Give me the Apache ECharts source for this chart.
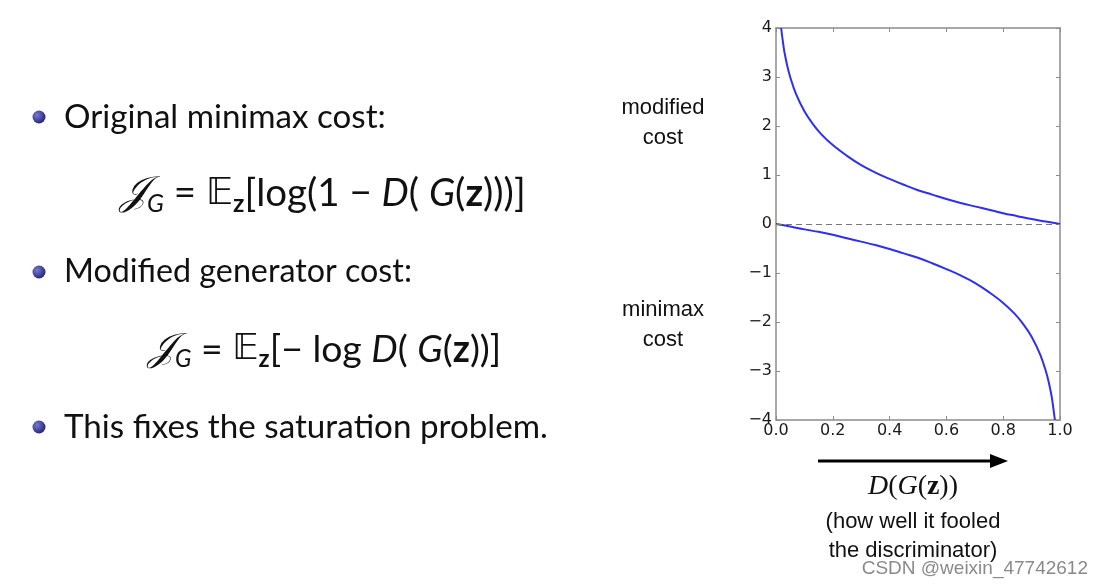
<!DOCTYPE html>
<html>
<head>
<meta charset="utf-8">
<script src="https://cdn.jsdelivr.net/npm/echarts@6/dist/echarts.min.js"></script>
<style>
  html, body { margin: 0; padding: 0; background: #fff; }
  #chart { width: 1103px; height: 588px; }
</style>
</head>
<body>
<div id="chart"></div>
<script>
// values
const modX = [0.018, 0.025, 0.03, 0.04, 0.05, 0.07, 0.1, 0.13, 0.16, 0.2, 0.25, 0.3, 0.35, 0.4, 0.45, 0.5, 0.55, 0.6, 0.65, 0.7, 0.75, 0.8, 0.85, 0.9, 0.95, 1.0]
const modY = [4.0, 3.69, 3.5, 3.22, 3.0, 2.66, 2.3, 2.04, 1.83, 1.61, 1.39, 1.2, 1.05, 0.92, 0.8, 0.69, 0.6, 0.51, 0.43, 0.36, 0.29, 0.22, 0.16, 0.1, 0.05, 0.0]
const minX = [0, 0.05, 0.1, 0.15, 0.2, 0.25, 0.3, 0.35, 0.4, 0.45, 0.5, 0.55, 0.6, 0.65, 0.7, 0.75, 0.8, 0.84, 0.87, 0.9, 0.93, 0.95, 0.96, 0.97, 0.975, 0.982]
const minY = [0, -0.05, -0.11, -0.16, -0.22, -0.29, -0.36, -0.43, -0.51, -0.6, -0.69, -0.8, -0.92, -1.05, -1.2, -1.39, -1.61, -1.83, -2.04, -2.3, -2.66, -3.0, -3.22, -3.5, -3.69, -4.0]
const xTickLabels = ['0.0', '0.2', '0.4', '0.6', '0.8', '1.0']
const yTickLabels = ['\u22124', '\u22123', '\u22122', '\u22121', '0', '1', '2', '3', '4']

const chart = echarts.init(document.getElementById('chart'))

// 文字测量
const ctx = document.createElement('canvas').getContext('2d')
function measure(p) {
  ctx.font = (p.style || 'normal') + ' ' + (p.weight || 'normal') + ' ' + p.size + 'px ' + p.family
  return ctx.measureText(p.t).width
}
// 一行文字按目标宽度排版
function layoutLine(pieces, x0, yc, width, fill) {
  let total = 0
  pieces.forEach(p => { total += measure(p) })
  const k = width ? width / total : 1
  let x = x0
  const out = []
  pieces.forEach(p => {
    const q = Object.assign({}, p, { size: p.size * k })
    out.push({
      type: 'text', x: x, y: yc + (p.dy || 0) * k,
      style: {
        text: p.t, fontSize: q.size, fontFamily: p.family,
        fontStyle: p.style || 'normal', fontWeight: p.weight || 'normal',
        fill: fill || '#111', align: 'left', verticalAlign: 'middle'
      }
    })
    x += measure(q)
  })
  return out
}

const sans = 'Lato'
const graphics = []
// 项目符号
;[117, 272, 427].forEach(y => {
  graphics.push({
    type: 'circle', shape: { cx: 39, cy: y, r: 6.5 },
    style: {
      fill: { type: 'radial', x: 0.35, y: 0.35, r: 0.75,
        colorStops: [{ offset: 0, color: '#7878d8' }, { offset: 1, color: '#1e1e66' }] }
    }
  })
})
graphics.push(...layoutLine([{ t: 'Original minimax cost:', size: 34, family: sans }], 64, 117, 322))
graphics.push(...layoutLine([{ t: 'Modified generator cost:', size: 34, family: sans }], 64, 272, 348))
// 分段绘制，避免 "ti" 连字
graphics.push(...layoutLine([
  { t: 'This fixes the satura', size: 34, family: sans },
  { t: 'tion problem.', size: 34, family: sans }
], 64, 427, 484))

const mathSerif = 'DejaVu Serif'
graphics.push(...layoutLine([
  { t: '\uD835\uDCA5', size: 32, family: mathSerif, style: 'italic' },
  { t: 'G', size: 20, family: sans, style: 'italic', dy: 8 },
  { t: ' = ', size: 31, family: sans },
  { t: '\uD835\uDD3C', size: 30, family: 'DejaVu Sans' },
  { t: 'z', size: 20, family: sans, weight: 'bold', dy: 8 },
  { t: '[log(1 \u2212 ', size: 31, family: sans },
  { t: 'D', size: 31, family: sans, style: 'italic' },
  { t: '( ', size: 31, family: sans },
  { t: 'G', size: 31, family: sans, style: 'italic' },
  { t: '(', size: 31, family: sans },
  { t: 'z', size: 31, family: sans, weight: 'bold' },
  { t: ')))]', size: 31, family: sans }
], 120, 194, 406))
graphics.push(...layoutLine([
  { t: '\uD835\uDCA5', size: 32, family: mathSerif, style: 'italic' },
  { t: 'G', size: 20, family: sans, style: 'italic', dy: 8 },
  { t: ' = ', size: 31, family: sans },
  { t: '\uD835\uDD3C', size: 30, family: 'DejaVu Sans' },
  { t: 'z', size: 20, family: sans, weight: 'bold', dy: 8 },
  { t: '[\u2212 log ', size: 31, family: sans },
  { t: 'D', size: 31, family: sans, style: 'italic' },
  { t: '( ', size: 31, family: sans },
  { t: 'G', size: 31, family: sans, style: 'italic' },
  { t: '(', size: 31, family: sans },
  { t: 'z', size: 31, family: sans, weight: 'bold' },
  { t: '))]', size: 31, family: sans }
], 148, 350, 353))

// 图旁说明
const helv = 'Liberation Sans'
;[['modified', 108, 663], ['cost', 138, 663], ['minimax', 310, 663], ['cost', 340, 663],
  ['(how well it fooled', 522, 913], ['the discriminator)', 551, 913]].forEach(([t, y, x]) => {
  graphics.push({
    type: 'text', x: x, y: y,
    style: { text: t, fontSize: 22, fontFamily: helv, fill: '#111', align: 'center', verticalAlign: 'middle' }
  })
})
// 箭头
graphics.push({ type: 'line', shape: { x1: 818, y1: 461, x2: 992, y2: 461 }, style: { stroke: '#000', lineWidth: 3 } })
graphics.push({ type: 'polygon', shape: { points: [[990, 454], [1008, 461], [990, 468]] }, style: { fill: '#000' } })
graphics.push(...layoutLine([
  { t: 'D', size: 24, family: 'Liberation Serif', style: 'italic' },
  { t: '(', size: 24, family: 'Liberation Serif' },
  { t: 'G', size: 24, family: 'Liberation Serif', style: 'italic' },
  { t: '(', size: 24, family: 'Liberation Serif' },
  { t: 'z', size: 24, family: 'Liberation Serif', weight: 'bold' },
  { t: '))', size: 24, family: 'Liberation Serif' }
], 868, 487, 90))
// 水印
graphics.push({
  type: 'text', x: 1088, y: 569,
  style: { text: 'CSDN @weixin_47742612', fontSize: 19, fontFamily: helv, fill: '#8a8a8a',
    align: 'right', verticalAlign: 'middle' }
})

const frameColor = '#8c8c8c'
const tickStyle = { show: true, inside: true, length: 4, lineStyle: { color: frameColor, width: 1 } }
const frameLine = { show: true, onZero: false, lineStyle: { color: frameColor, width: 1.5 } }
const axisLabelStyle = { color: '#1a1a1a', fontSize: 16, fontFamily: 'DejaVu Sans' }

const option = {
  animation: false,
  backgroundColor: '#fff',
  grid: { left: 776, right: 43, top: 28, bottom: 168, outerBoundsMode: 'none' },
  xAxis: [
    {
      type: 'value', min: 0, max: 1, interval: 0.2, position: 'bottom',
      axisLine: frameLine, axisTick: tickStyle, splitLine: { show: false },
      axisLabel: Object.assign({ margin: 3, formatter: v => xTickLabels[Math.round(v * 5)] }, axisLabelStyle)
    },
    {
      type: 'value', min: 0, max: 1, interval: 0.2, position: 'top',
      axisLine: frameLine, axisTick: tickStyle, axisLabel: { show: false }, splitLine: { show: false }
    }
  ],
  yAxis: [
    {
      type: 'value', min: -4, max: 4, interval: 1, position: 'left',
      axisLine: frameLine, axisTick: tickStyle, splitLine: { show: false },
      axisLabel: Object.assign({ margin: 4, formatter: v => yTickLabels[Math.round(v) + 4] }, axisLabelStyle)
    },
    {
      type: 'value', min: -4, max: 4, interval: 1, position: 'right',
      axisLine: frameLine, axisTick: tickStyle, axisLabel: { show: false }, splitLine: { show: false }
    }
  ],
  series: [
    {
      name: 'modified cost', type: 'line', xAxisIndex: 0, yAxisIndex: 0,
      data: modX.map((x, i) => [x, modY[i]]),
      smooth: 0.4, showSymbol: false,
      lineStyle: { color: '#3030e8', width: 2 },
      markLine: {
        silent: true, symbol: 'none', label: { show: false },
        lineStyle: { color: '#777', type: [6, 4], width: 1 },
        data: [{ yAxis: 0 }]
      }
    },
    {
      name: 'minimax cost', type: 'line', xAxisIndex: 0, yAxisIndex: 0,
      data: minX.map((x, i) => [x, minY[i]]),
      smooth: 0.4, showSymbol: false,
      lineStyle: { color: '#3030e8', width: 2 }
    }
  ],
  graphic: graphics
}
chart.setOption(option)
</script>
</body>
</html>
